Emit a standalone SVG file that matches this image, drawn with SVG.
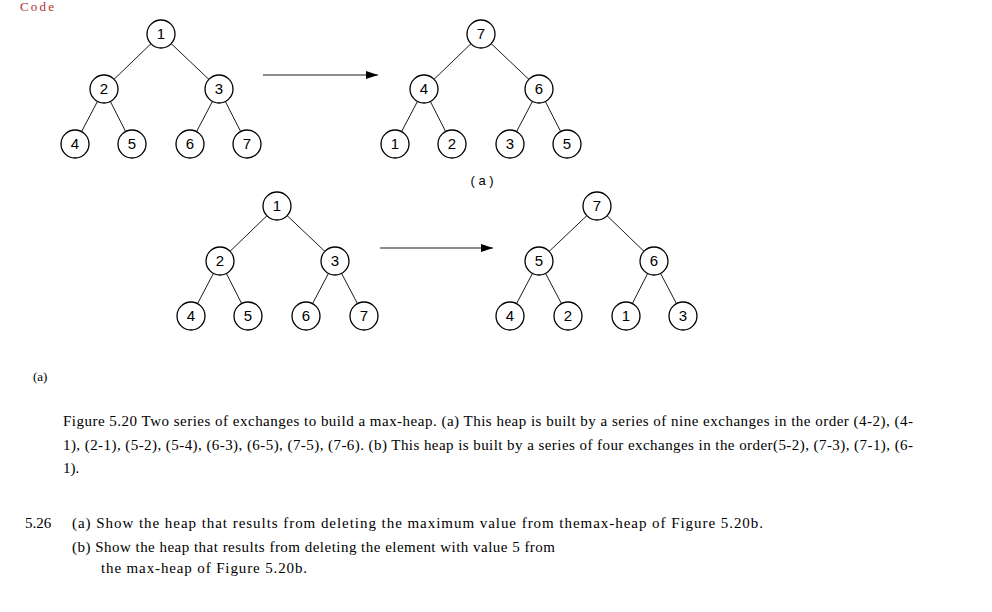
<svg xmlns="http://www.w3.org/2000/svg" width="992" height="612" viewBox="0 0 992 612">
<style>
.n circle{fill:#fff;stroke:#000;stroke-width:1.3}
.n text{font-family:"Liberation Sans",Arial,sans-serif;font-size:15px;text-anchor:middle}
.e line{stroke:#000;stroke-width:0.9}
.t{font-family:"Liberation Serif","Times New Roman",serif;font-size:15px}
</style>
<defs><marker id="ah" markerWidth="12" markerHeight="8" refX="12" refY="4" orient="auto" markerUnits="userSpaceOnUse"><path d="M0,0L12,4L0,8z"/></marker></defs>
<rect width="992" height="612" fill="#fff"/>
<text x="20" y="11" font-family="Liberation Serif,serif" font-size="13" fill="#b03030" textLength="34" lengthAdjust="spacing">Code</text>
<g class="e" id="connectors">
<line x1="161" y1="34" x2="104" y2="89"/><line x1="161" y1="34" x2="219" y2="89"/>
<line x1="104" y1="89" x2="75" y2="144"/><line x1="104" y1="89" x2="132" y2="144"/>
<line x1="219" y1="89" x2="190" y2="144"/><line x1="219" y1="89" x2="247" y2="144"/>
<line x1="481" y1="34" x2="424" y2="89"/><line x1="481" y1="34" x2="539" y2="89"/>
<line x1="424" y1="89" x2="395" y2="144"/><line x1="424" y1="89" x2="452" y2="144"/>
<line x1="539" y1="89" x2="510" y2="144"/><line x1="539" y1="89" x2="567" y2="144"/>
<line x1="277" y1="206" x2="220" y2="261"/><line x1="277" y1="206" x2="335" y2="261"/>
<line x1="220" y1="261" x2="191" y2="316"/><line x1="220" y1="261" x2="248" y2="316"/>
<line x1="335" y1="261" x2="306" y2="316"/><line x1="335" y1="261" x2="364" y2="316"/>
<line x1="597" y1="206" x2="539" y2="261"/><line x1="597" y1="206" x2="654" y2="261"/>
<line x1="539" y1="261" x2="510" y2="316"/><line x1="539" y1="261" x2="568" y2="316"/>
<line x1="654" y1="261" x2="626" y2="316"/><line x1="654" y1="261" x2="683" y2="316"/>
<line x1="263" y1="75" x2="378" y2="75" stroke-width="1.5" marker-end="url(#ah)"/>
<line x1="380" y1="248" x2="493" y2="248" stroke-width="1.5" marker-end="url(#ah)"/>
</g>
<g class="n" id="a1"><circle cx="161" cy="34" r="14"/><text x="161" y="39">1</text></g>
<g class="n" id="a2"><circle cx="104" cy="89" r="14"/><text x="104" y="94">2</text></g>
<g class="n" id="a3"><circle cx="219" cy="89" r="14"/><text x="219" y="94">3</text></g>
<g class="n" id="a4"><circle cx="75" cy="144" r="14"/><text x="75" y="149">4</text></g>
<g class="n" id="a5"><circle cx="132" cy="144" r="14"/><text x="132" y="149">5</text></g>
<g class="n" id="a6"><circle cx="190" cy="144" r="14"/><text x="190" y="149">6</text></g>
<g class="n" id="a7"><circle cx="247" cy="144" r="14"/><text x="247" y="149">7</text></g>
<g class="n" id="b7"><circle cx="481" cy="34" r="14"/><text x="481" y="39">7</text></g>
<g class="n" id="b4"><circle cx="424" cy="89" r="14"/><text x="424" y="94">4</text></g>
<g class="n" id="b6"><circle cx="539" cy="89" r="14"/><text x="539" y="94">6</text></g>
<g class="n" id="b1"><circle cx="395" cy="144" r="14"/><text x="395" y="149">1</text></g>
<g class="n" id="b2"><circle cx="452" cy="144" r="14"/><text x="452" y="149">2</text></g>
<g class="n" id="b3"><circle cx="510" cy="144" r="14"/><text x="510" y="149">3</text></g>
<g class="n" id="b5"><circle cx="567" cy="144" r="14"/><text x="567" y="149">5</text></g>
<g class="n" id="c1"><circle cx="277" cy="206" r="14"/><text x="277" y="211">1</text></g>
<g class="n" id="c2"><circle cx="220" cy="261" r="14"/><text x="220" y="266">2</text></g>
<g class="n" id="c3"><circle cx="335" cy="261" r="14"/><text x="335" y="266">3</text></g>
<g class="n" id="c4"><circle cx="191" cy="316" r="14"/><text x="191" y="321">4</text></g>
<g class="n" id="c5"><circle cx="248" cy="316" r="14"/><text x="248" y="321">5</text></g>
<g class="n" id="c6"><circle cx="306" cy="316" r="14"/><text x="306" y="321">6</text></g>
<g class="n" id="c7"><circle cx="364" cy="316" r="14"/><text x="364" y="321">7</text></g>
<g class="n" id="d7"><circle cx="597" cy="206" r="14"/><text x="597" y="211">7</text></g>
<g class="n" id="d5"><circle cx="539" cy="261" r="14"/><text x="539" y="266">5</text></g>
<g class="n" id="d6"><circle cx="654" cy="261" r="14"/><text x="654" y="266">6</text></g>
<g class="n" id="d4"><circle cx="510" cy="316" r="14"/><text x="510" y="321">4</text></g>
<g class="n" id="d2"><circle cx="568" cy="316" r="14"/><text x="568" y="321">2</text></g>
<g class="n" id="d1"><circle cx="626" cy="316" r="14"/><text x="626" y="321">1</text></g>
<g class="n" id="d3"><circle cx="683" cy="316" r="14"/><text x="683" y="321">3</text></g>
<text x="482" y="185" font-family="Liberation Sans,sans-serif" font-size="13" text-anchor="middle">( a )</text>
<text x="33" y="381" font-family="Liberation Serif,serif" font-size="13">(a)</text>
<text class="t" x="63" y="426" textLength="850" lengthAdjust="spacing">Figure 5.20 Two series of exchanges to build a max-heap. (a) This heap is built by a series of nine exchanges in the order (4-2), (4-</text>
<text class="t" x="63" y="450" textLength="850" lengthAdjust="spacing">1), (2-1), (5-2), (5-4), (6-3), (6-5), (7-5), (7-6). (b) This heap is built by a series of four exchanges in the order(5-2), (7-3), (7-1), (6-</text>
<text class="t" x="63" y="473">1).</text>
<text class="t" x="25" y="528" font-size="16">5.26</text>
<text class="t" x="72" y="528" font-size="16" textLength="691" lengthAdjust="spacing">(a) Show the heap that results from deleting the maximum value from themax-heap of Figure 5.20b.</text>
<text class="t" x="72" y="552" textLength="483" lengthAdjust="spacing">(b) Show the heap that results from deleting the element with value 5 from</text>
<text class="t" x="101" y="573" font-size="16" textLength="206" lengthAdjust="spacing">the max-heap of Figure 5.20b.</text>
</svg>
